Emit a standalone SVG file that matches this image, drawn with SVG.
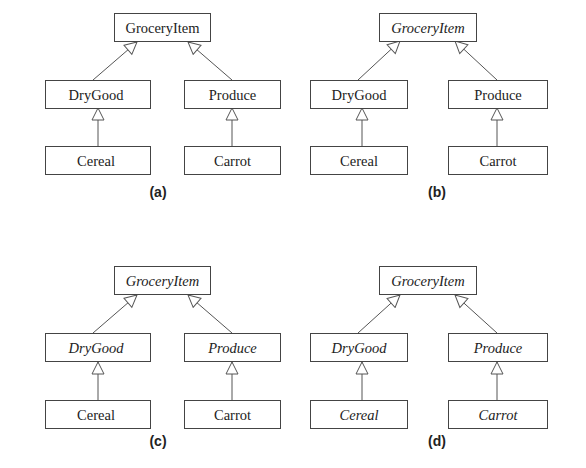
<svg xmlns="http://www.w3.org/2000/svg" width="586" height="468" viewBox="0 0 586 468">
<style>
.box{fill:#fff;stroke:#444;stroke-width:1}
.t{font-family:"Liberation Serif","Times New Roman",serif;font-size:14.5px;fill:#222;text-anchor:middle}
.i{font-style:italic}
.cap{font-family:"Liberation Sans",Arial,sans-serif;font-size:14px;font-weight:bold;fill:#222;text-anchor:middle}
.c{stroke:#555;stroke-width:1;fill:none;marker-end:url(#tri)}
</style>
<defs>
<marker id="tri" markerUnits="userSpaceOnUse" markerWidth="14" markerHeight="14" viewBox="-1 -1 14 14" refX="12" refY="6" orient="auto">
<path d="M0,0 L12,6 L0,12 Z" fill="#fff" stroke="#555" stroke-width="1"/>
</marker>
</defs>
<rect width="586" height="468" fill="#fff"/>

<g id="connectors">
<line class="c" x1="93" y1="80" x2="137" y2="42"/>
<line class="c" x1="232" y1="80" x2="188" y2="42"/>
<line class="c" x1="98" y1="146" x2="98" y2="108"/>
<line class="c" x1="232" y1="146" x2="232" y2="108"/>

<line class="c" x1="358" y1="80" x2="400" y2="41"/>
<line class="c" x1="497" y1="80" x2="455" y2="41"/>
<line class="c" x1="362" y1="146" x2="362" y2="108"/>
<line class="c" x1="497" y1="146" x2="497" y2="108"/>

<line class="c" x1="93" y1="333" x2="137" y2="295"/>
<line class="c" x1="232" y1="333" x2="188" y2="295"/>
<line class="c" x1="98" y1="400" x2="98" y2="362"/>
<line class="c" x1="232" y1="400" x2="232" y2="362"/>

<line class="c" x1="358" y1="333" x2="400" y2="295"/>
<line class="c" x1="497" y1="333" x2="455" y2="295"/>
<line class="c" x1="362" y1="400" x2="362" y2="362"/>
<line class="c" x1="497" y1="400" x2="497" y2="362"/>
</g>

<!-- panel a -->
<g id="a-grocery"><rect class="box" x="114.5" y="13.5" width="96" height="28"/><text class="t" x="162.5" y="32.5">GroceryItem</text></g>
<g id="a-drygood"><rect class="box" x="45.5" y="80.5" width="105" height="28"/><text class="t" x="96" y="99.5">DryGood</text></g>
<g id="a-produce"><rect class="box" x="184.5" y="80.5" width="96" height="28"/><text class="t" x="232.5" y="99.5">Produce</text></g>
<g id="a-cereal"><rect class="box" x="45.5" y="146.5" width="105" height="28"/><text class="t" x="96" y="165.5">Cereal</text></g>
<g id="a-carrot"><rect class="box" x="184.5" y="146.5" width="96" height="28"/><text class="t" x="232.5" y="165.5">Carrot</text></g>
<text class="cap" x="158" y="197">(a)</text>

<!-- panel b -->
<g id="b-grocery"><rect class="box" x="379.5" y="13.5" width="97" height="28"/><text class="t i" x="428" y="32.5">GroceryItem</text></g>
<g id="b-drygood"><rect class="box" x="310.5" y="80.5" width="97" height="28"/><text class="t" x="359" y="99.5">DryGood</text></g>
<g id="b-produce"><rect class="box" x="448.5" y="80.5" width="99" height="28"/><text class="t" x="498" y="99.5">Produce</text></g>
<g id="b-cereal"><rect class="box" x="310.5" y="146.5" width="97" height="28"/><text class="t" x="359" y="165.5">Cereal</text></g>
<g id="b-carrot"><rect class="box" x="448.5" y="146.5" width="99" height="28"/><text class="t" x="498" y="165.5">Carrot</text></g>
<text class="cap" x="437" y="197">(b)</text>

<!-- panel c -->
<g id="c-grocery"><rect class="box" x="114.5" y="266.5" width="96" height="28"/><text class="t i" x="162.5" y="285.5">GroceryItem</text></g>
<g id="c-drygood"><rect class="box" x="45.5" y="333.5" width="105" height="28"/><text class="t i" x="96" y="352.5">DryGood</text></g>
<g id="c-produce"><rect class="box" x="184.5" y="333.5" width="96" height="28"/><text class="t i" x="232.5" y="352.5">Produce</text></g>
<g id="c-cereal"><rect class="box" x="45.5" y="400.5" width="105" height="28"/><text class="t" x="96" y="419.5">Cereal</text></g>
<g id="c-carrot"><rect class="box" x="184.5" y="400.5" width="96" height="28"/><text class="t" x="232.5" y="419.5">Carrot</text></g>
<text class="cap" x="158" y="446">(c)</text>

<!-- panel d -->
<g id="d-grocery"><rect class="box" x="379.5" y="266.5" width="97" height="28"/><text class="t i" x="428" y="285.5">GroceryItem</text></g>
<g id="d-drygood"><rect class="box" x="310.5" y="333.5" width="97" height="28"/><text class="t i" x="359" y="352.5">DryGood</text></g>
<g id="d-produce"><rect class="box" x="448.5" y="333.5" width="99" height="28"/><text class="t i" x="498" y="352.5">Produce</text></g>
<g id="d-cereal"><rect class="box" x="310.5" y="400.5" width="97" height="28"/><text class="t i" x="359" y="419.5">Cereal</text></g>
<g id="d-carrot"><rect class="box" x="448.5" y="400.5" width="99" height="28"/><text class="t i" x="498" y="419.5">Carrot</text></g>
<text class="cap" x="437" y="446">(d)</text>
</svg>
